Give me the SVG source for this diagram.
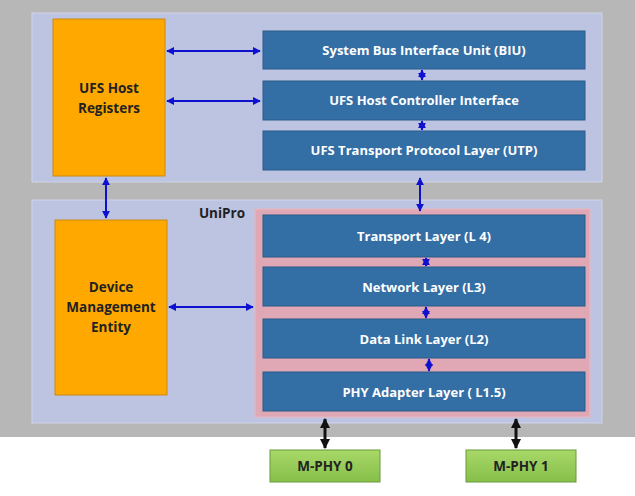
<svg xmlns="http://www.w3.org/2000/svg" width="635" height="496" viewBox="0 0 635 496">
<defs>
<marker id="ab" viewBox="0 0 10 10" refX="9" refY="5" markerWidth="4" markerHeight="4" orient="auto-start-reverse"><path d="M0,0L10,5L0,10z" fill="#1010d0"/></marker>
<marker id="ak" viewBox="0 0 10 10" refX="9" refY="5" markerWidth="3.5" markerHeight="3.5" orient="auto-start-reverse"><path d="M0,0L10,5L0,10z" fill="#111"/></marker>
<linearGradient id="g" x1="0" y1="0" x2="0" y2="1"><stop offset="0" stop-color="#a8d868"/><stop offset="1" stop-color="#86bf4a"/></linearGradient>
</defs>
<style>
.blk{fill:#336ea5;stroke:#2a5a88;stroke-width:1}
.org{fill:#ffa800;stroke:#c98a10;stroke-width:1}
.wt{font-family:"Open Sans","Liberation Sans",sans-serif;font-weight:bold;font-size:13px;fill:#fff;text-anchor:middle}
.bk{font-family:"Open Sans","Liberation Sans",sans-serif;font-weight:bold;font-size:13.5px;fill:#222;text-anchor:middle}
.bl{stroke:#1010d0;stroke-width:2;fill:none;marker-start:url(#ab);marker-end:url(#ab)}
.kl{stroke:#111;stroke-width:3;fill:none;marker-start:url(#ak);marker-end:url(#ak)}
</style>
<rect x="0" y="0" width="635" height="437" fill="#b7b7b7"/>
<rect x="32" y="13" width="570" height="169" fill="#bcc4e2" stroke="#d0d4e8"/>
<rect x="32" y="200" width="570" height="223" fill="#bcc4e2" stroke="#d0d4e8"/>
<rect x="255" y="209" width="335" height="208" fill="#dfa8b4" stroke="#eab8c0"/>
<g id="host-registers"><rect class="org" x="53" y="19" width="112" height="157"/><text class="bk" x="109" y="93">UFS  Host</text><text class="bk" x="109" y="113">Registers</text></g>
<g id="biu"><rect class="blk" x="263" y="31" width="322" height="38"/><text class="wt" x="424" y="55">System Bus Interface  Unit (BIU)</text></g>
<g id="hci"><rect class="blk" x="263" y="81" width="322" height="39"/><text class="wt" x="424" y="105">UFS Host Controller Interface</text></g>
<g id="utp"><rect class="blk" x="263" y="131" width="322" height="39"/><text class="wt" x="424" y="155">UFS Transport Protocol Layer (UTP)</text></g>
<g id="unipro-label"><text class="bk" x="222" y="218">UniPro</text></g>
<g id="dme"><rect class="org" x="55" y="220" width="112" height="175"/><text class="bk" x="111" y="292">Device</text><text class="bk" x="111" y="312">Management</text><text class="bk" x="111" y="332">Entity</text></g>
<g id="l4"><rect class="blk" x="263" y="215" width="322" height="42"/><text class="wt" x="424" y="241">Transport Layer (L 4)</text></g>
<g id="l3"><rect class="blk" x="263" y="267" width="322" height="39"/><text class="wt" x="424" y="292">Network Layer (L3)</text></g>
<g id="l2"><rect class="blk" x="263" y="319" width="322" height="39"/><text class="wt" x="424" y="344">Data Link Layer (L2)</text></g>
<g id="l15"><rect class="blk" x="263" y="372" width="322" height="39"/><text class="wt" x="424" y="397">PHY Adapter Layer  ( L1.5)</text></g>
<g id="mphy0"><rect x="270" y="450" width="110" height="32" fill="url(#g)" stroke="#6a9a3a"/><text class="bk" x="325" y="471">M-PHY 0</text></g>
<g id="mphy1"><rect x="466" y="450" width="110" height="32" fill="url(#g)" stroke="#6a9a3a"/><text class="bk" x="521" y="471">M-PHY 1</text></g>
<g id="connectors">
<line class="bl" x1="167" y1="51" x2="260" y2="51"/>
<line class="bl" x1="167" y1="101" x2="260" y2="101"/>
<line class="bl" x1="422" y1="70" x2="422" y2="80"/>
<line class="bl" x1="422" y1="121" x2="422" y2="130"/>
<line class="bl" x1="420" y1="178" x2="420" y2="211"/>
<line class="bl" x1="106" y1="178" x2="106" y2="218"/>
<line class="bl" x1="169" y1="307" x2="253" y2="307"/>
<line class="bl" x1="426" y1="258" x2="426" y2="266"/>
<line class="bl" x1="426" y1="307" x2="426" y2="318"/>
<line class="bl" x1="429" y1="359" x2="429" y2="371"/>
<line class="kl" x1="325" y1="419" x2="325" y2="448"/>
<line class="kl" x1="516" y1="419" x2="516" y2="448"/>
</g>
</svg>
